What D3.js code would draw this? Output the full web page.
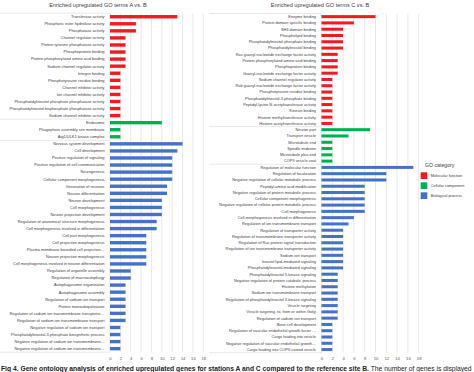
<!DOCTYPE html>
<html><head><meta charset="utf-8">
<script src="https://cdn.jsdelivr.net/npm/d3@7"></script>
<style>
html,body{margin:0;padding:0;background:#fff;}
svg{display:block;}
text{font-family:"Liberation Sans",Arial,sans-serif;}
</style></head>
<body>
<svg id="chart" width="474" height="372"></svg>
<script>
// ---- Data: A vs. B ----
const mfA = ["Transferase activity","Phosphoric ester hydrolase activity","Phosphatase activity","Channel regulator activity","Protein tyrosine phosphatase activity","Phosphoprotein binding","Protein phosphorylated amino acid binding","Sodium channel regulator activity","Integrin binding","Phosphotyrosine residue binding","Channel inhibitor activity","Ion channel inhibitor activity","Phosphatidylinositol phosphate phosphatase activity","Phosphatidylinositol bisphosphate phosphatase activity","Sodium channel inhibitor activity"];
const mfAValues = [13,5,5,3,3,3,3,3,2,2,2,2,2,2,2];
const ccA = ["Endosome","Phagophore assembly site membrane","Atg1/ULK1 kinase complex"];
const ccAValues = [10,2,2];
const bpA = ["Nervous system development","Cell development","Positive regulation of signaling","Positive regulation of cell communication","Neurogenesis","Cellular component morphogenesis","Generation of neurons","Neuron differentiation","Neuron development","Cell morphogenesis","Neuron projection development","Regulation of anatomical structure morphogenesis","Cell morphogenesis involved in differentiation","Cell part morphogenesis","Cell projection morphogenesis","Plasma membrane bounded cell projection…","Neuron projection morphogenesis","Cell morphogenesis involved in neuron differentiation","Regulation of organelle assembly","Regulation of macroautophagy","Autophagosome organization","Autophagosome assembly","Regulation of sodium ion transport","Protein monoubiquitination","Regulation of sodium ion transmembrane transporter…","Regulation of sodium ion transmembrane transport","Negative regulation of sodium ion transport","Phosphatidylinositol-3-phosphate biosynthetic process","Negative regulation of sodium ion transmembrane…","Negative regulation of sodium ion transmembrane…"];
const bpAValues = [14,13,12,12,12,12,11,11,10,10,10,9,9,7,7,7,7,7,4,4,3,3,3,3,3,3,2,2,2,2];

// ---- Data: C vs. B ----
const mfC = ["Enzyme binding","Protein domain specific binding","SH3 domain binding","Phospholipid binding","Phosphatidylinositol phosphate binding","Phosphatidylinositol binding","Ras guanyl-nucleotide exchange factor activity","Protein phosphorylated amino acid binding","Phosphoprotein binding","Guanyl-nucleotide exchange factor activity","Sodium channel regulator activity","Rab guanyl-nucleotide exchange factor activity","Phosphotyrosine residue binding","Phosphatidylinositol-3-phosphate binding","Peptidyl-lysine N-acetyltransferase activity","Kinesin binding","Histone methyltransferase activity","Histone acetyltransferase activity"];
const mfCValues = [10,6,4,4,4,4,3,3,3,3,2,2,2,2,2,2,2,2];
const ccC = ["Neuron part","Transport vesicle","Microtubule end","Spindle midzone","Microtubule plus-end","COPII vesicle coat"];
const ccCValues = [9,5,2,2,2,2];
const bpC = ["Regulation of molecular function","Regulation of localization","Negative regulation of cellular metabolic process","Peptidyl-amino acid modification","Negative regulation of protein metabolic process","Cellular component morphogenesis","Negative regulation of cellular protein metabolic process","Cell morphogenesis","Cell morphogenesis involved in differentiation","Regulation of ion transmembrane transport","Regulation of transporter activity","Regulation of transmembrane transporter activity","Regulation of Ras protein signal transduction","Regulation of ion transmembrane transporter activity","Sodium ion transport","Inositol lipid-mediated signaling","Phosphatidylinositol-mediated signaling","Phosphatidylinositol 3-kinase signaling","Negative regulation of protein catabolic process","Histone methylation","Sodium ion transmembrane transport","Regulation of phosphatidylinositol 3-kinase signaling","Vesicle targeting","Vesicle targeting, to, from or within Golgi","Regulation of sodium ion transport","Bone cell development","Regulation of vascular endothelial growth factor …","Cargo loading into vesicle","Negative regulation of vascular endothelial growth…","Cargo loading into COPII-coated vesicle"];
const bpCValues = [17,12,12,8,8,8,8,8,6,5,4,4,4,4,4,4,4,3,3,3,3,3,3,3,3,2,2,2,2,2];

const xTicks = [0,2,4,6,8,10,12,14,16,18];
const groupNames = ["Molecular function","Cellular component","Biological process"];
const groupColors = ["#f01a1f","#00b050","#4472c4"];
const titles = ["Enriched upregulated GO terms A vs. B","Enriched upregulated GO terms C vs. B"];
const captionBold = "Fig 4.  Gene ontology analysis of enriched upregulated genes for stations A and C compared to the reference site B.";
const captionRest = " The number of genes is displayed";

const svg = d3.select("#chart");

function buildRows(groups){
  const rows=[];
  groups.forEach((g,gi)=>g.labels.forEach((l,i)=>rows.push({id:gi+"-"+i,label:l,value:g.values[i],group:gi})));
  return rows;
}

function panel(cfg){
  const rows = buildRows(cfg.groups);
  const g = svg.append("g");
  const y = d3.scaleBand().domain(rows.map(d=>d.id)).range([cfg.top,cfg.bottom]).paddingInner(cfg.pad).paddingOuter(cfg.pad/2);
  const x = d3.scaleLinear().domain([0,18]).range([cfg.x0,cfg.x1]);
  // gridlines
  g.selectAll("line.grid").data(xTicks).join("line")
    .attr("x1",d=>x(d)).attr("x2",d=>x(d)).attr("y1",cfg.top).attr("y2",cfg.bottom)
    .attr("stroke","#d9d9d9").attr("stroke-width",0.6);
  // separators in label area
  const sepY=[cfg.top,cfg.bottom];
  let acc=0;
  cfg.groups.forEach((grp,i)=>{acc+=grp.labels.length; if(i<cfg.groups.length-1) sepY.push(y(rows[acc].id)-y.step()*cfg.pad/2);});
  g.selectAll("line.sep").data(sepY).join("line")
    .attr("x1",cfg.labelLeft).attr("x2",cfg.x0).attr("y1",d=>d).attr("y2",d=>d)
    .attr("stroke","#d9d9d9").attr("stroke-width",0.6);
  // bars
  g.selectAll("rect").data(rows).join("rect")
    .attr("x",x(0)).attr("y",d=>y(d.id)).attr("height",y.bandwidth())
    .attr("width",d=>x(d.value)-x(0)).attr("fill",d=>groupColors[d.group]);
  // labels
  g.selectAll("text.lab").data(rows).join("text")
    .attr("x",cfg.x0-5.5).attr("y",d=>y(d.id)+y.bandwidth()/2).attr("dy","0.35em")
    .attr("text-anchor","end").attr("font-size",3.9).attr("fill","#404040").text(d=>d.label);
  // axis
  const ax = g.append("g").attr("transform",`translate(0,${cfg.bottom+2})`)
    .call(d3.axisBottom(x).tickValues(xTicks).tickSize(0).tickPadding(2.5));
  ax.select(".domain").remove();
  ax.selectAll("text").attr("font-size",4.2).attr("fill","#595959").attr("font-family","Liberation Sans, Arial, sans-serif");
  // title
  g.append("text").attr("x",cfg.titleX).attr("y",7).attr("text-anchor","middle")
    .attr("font-size",5.6).attr("fill","#404040").text(cfg.title);
}

panel({groups:[{labels:mfA,values:mfAValues},{labels:ccA,values:ccAValues},{labels:bpA,values:bpAValues}],
  top:13.2,bottom:352.2,pad:0.52,x0:110,x1:203.3,labelLeft:0,title:titles[0],titleX:98});
panel({groups:[{labels:mfC,values:mfCValues},{labels:ccC,values:ccCValues},{labels:bpC,values:bpCValues}],
  top:13.5,bottom:352.7,pad:0.52,x0:321.5,x1:418.7,labelLeft:209,title:titles[1],titleX:320});

// legend
const leg = svg.append("g");
leg.append("text").attr("x",425).attr("y",167).attr("font-size",5.2).attr("fill","#404040").text("GO category");
const li = leg.selectAll("g.li").data(groupNames).join("g").attr("transform",(d,i)=>`translate(420.7,${172.3+i*10})`);
li.append("rect").attr("width",6.6).attr("height",6.7).attr("fill",(d,i)=>groupColors[i]);
li.append("text").attr("x",10).attr("y",3.4).attr("dy","0.35em").attr("font-size",3.9).attr("fill","#404040").text(d=>d);

// caption: one text, sized so that it fits the width
const cap = svg.append("text").attr("x",1).attr("y",370.5)
  .attr("font-family","Liberation Serif, serif").attr("font-size",8).attr("fill","#222");
cap.append("tspan").attr("font-weight","bold").text(captionBold);
cap.append("tspan").text(captionRest);
const len = cap.node().getComputedTextLength();
cap.attr("font-size", 8 * 471 / len);
</script>
</body></html>
